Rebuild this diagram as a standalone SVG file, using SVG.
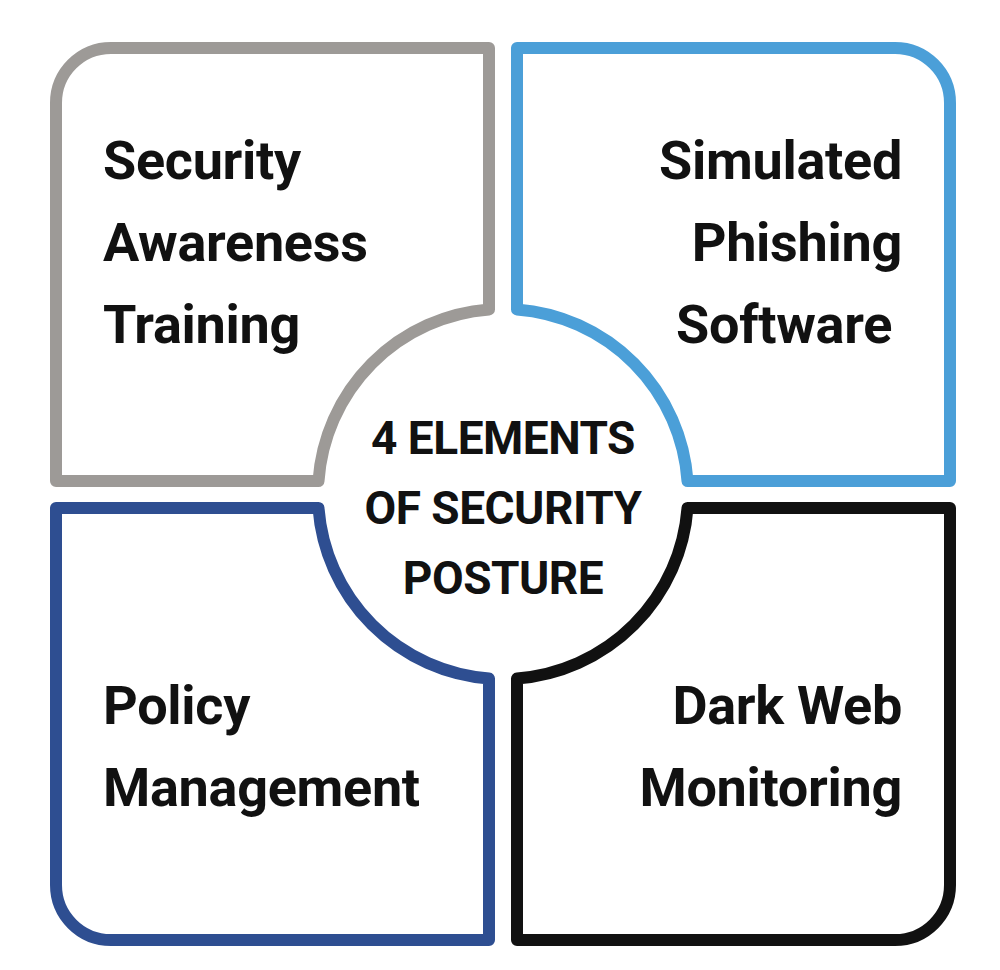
<svg xmlns="http://www.w3.org/2000/svg" width="1000" height="970" viewBox="0 0 1000 970">
<style>
.q{fill:none;stroke-width:12;stroke-linejoin:round}
.t{font-family:Roboto,"Liberation Sans",sans-serif;font-weight:bold;font-size:54px;fill:#111;letter-spacing:-0.3px}
.c{font-family:Roboto,"Liberation Sans",sans-serif;font-weight:bold;font-size:46px;fill:#111;text-anchor:middle;letter-spacing:-0.5px}
</style>
<rect width="1000" height="970" fill="#fff"/>
<g id="tl"><path class="q" stroke="#9d9a97" d="M56 481 L56 103 A55 55 0 0 1 111 48 L489 48 L489 309.5 A185 185 0 0 0 318.5 481 Z"/>
<text class="t" x="103" y="179">Security</text><text class="t" x="103" y="261">Awareness</text><text class="t" x="103" y="343">Training</text></g>
<g id="tr"><path class="q" stroke="#4b9fd8" d="M950 481 L950 103 A55 55 0 0 0 895 48 L517 48 L517 309.5 A185 185 0 0 1 687.5 481 Z"/>
<text class="t" x="902" y="179" text-anchor="end">Simulated</text><text class="t" x="902" y="261" text-anchor="end">Phishing</text><text class="t" x="892" y="343" text-anchor="end">Software</text></g>
<g id="bl"><path class="q" stroke="#2e4e91" d="M56 508 L56 885 A55 55 0 0 0 111 940 L489 940 L489 678.5 A185 185 0 0 1 318.5 508 Z"/>
<text class="t" x="103" y="724">Policy</text><text class="t" x="103" y="806">Management</text></g>
<g id="br"><path class="q" stroke="#111" d="M950 508 L950 885 A55 55 0 0 1 895 940 L517 940 L517 678.5 A185 185 0 0 0 687.5 508 Z"/>
<text class="t" x="902" y="724" text-anchor="end">Dark Web</text><text class="t" x="902" y="806" text-anchor="end">Monitoring</text></g>
<g id="center"><text class="c" x="503" y="454">4 ELEMENTS</text><text class="c" x="503" y="524">OF SECURITY</text><text class="c" x="503" y="594">POSTURE</text></g>
<g id="connectors"/>
</svg>
